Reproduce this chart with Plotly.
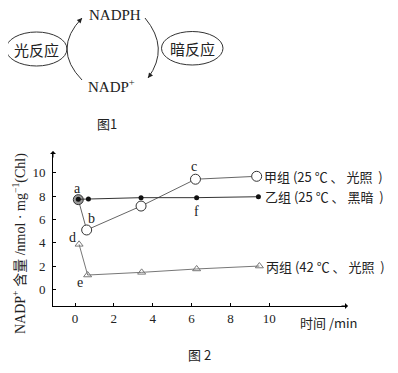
import plotly.graph_objects as go

# ---------------- data (figure 2) ----------------
jia_x = [0.17, 0.6, 3.4, 6.2, 9.35]
jia_y = [7.7, 5.1, 7.15, 9.45, 9.7]
yi_x = [0.17, 0.69, 3.4, 6.26, 9.44]
yi_y = [7.73, 7.75, 7.87, 7.87, 7.95]
bing_x = [0.21, 0.65, 3.43, 6.26, 9.49]
bing_y = [3.87, 1.24, 1.47, 1.76, 2.01]
series_names = ["甲组\u00a0(25\u00a0℃\u00a0、\u00a0光照\u00a0\u00a0)",
                "乙组\u00a0(25\u00a0℃\u00a0、\u00a0黑暗\u00a0\u00a0)",
                "丙组\u00a0(42\u00a0℃\u00a0、\u00a0光照\u00a0\u00a0)"]
x_ticks = [0, 2, 4, 6, 8, 10]
y_ticks = [0, 2, 4, 6, 8, 10]

# the page body has an 8px margin: the figure is drawn 8px in from the window edge
OFF = 8
W, H = 390, 357
SERIF = "Liberation Serif, Noto Sans CJK SC, serif"
CJK = "Noto Sans CJK SC, Liberation Serif"

fig = go.Figure()

# 甲组 (open circles, first point grey)
fig.add_trace(go.Scatter(
    x=jia_x, y=jia_y, mode="lines+markers", name=series_names[0],
    line=dict(color="#666", width=1),
    marker=dict(symbol="circle", size=10,
                color=["#9a9a9a", "white", "white", "white", "white"],
                line=dict(color="#333", width=1)),
    showlegend=False))
# 乙组 (filled dots)
fig.add_trace(go.Scatter(
    x=yi_x, y=yi_y, mode="lines+markers", name=series_names[1],
    line=dict(color="#333", width=1),
    marker=dict(symbol="circle", size=5, color="#111"),
    showlegend=False))
# 丙组 (open triangles)
fig.add_trace(go.Scatter(
    x=bing_x, y=bing_y, mode="lines+markers", name=series_names[2],
    line=dict(color="#777", width=1),
    marker=dict(symbol="triangle-up-open", size=7, color="#777", line=dict(width=1)),
    showlegend=False))

# invisible trace for the pixel-coordinate overlay axes (figure 1, titles)
fig.add_trace(go.Scatter(x=[OFF], y=[OFF], xaxis="x2", yaxis="y2", mode="markers",
                         marker=dict(opacity=0), showlegend=False, hoverinfo="skip"))

# axis geometry in window pixels
x_left, x_right = 53, 346
y_bottom, y_top = 306, 153
x0_px, x_scale = 75.0, 19.43
y0_px, y_scale = 289.5, 11.67
xr = [(x_left - x0_px) / x_scale, (x_right - x0_px) / x_scale]
yr = [(y0_px - y_bottom) / y_scale, (y0_px - y_top) / y_scale]

def fx(px):
    return (px - OFF) / W

def fy(py):
    return 1 - (py - OFF) / H

fig.update_layout(
    width=W, height=H, margin=dict(l=0, r=0, t=0, b=0),
    paper_bgcolor="white", plot_bgcolor="rgba(0,0,0,0)",
    xaxis=dict(domain=[fx(x_left), fx(x_right)], range=xr, showgrid=False, zeroline=False,
               showline=True, linecolor="black", linewidth=1,
               tickvals=x_ticks, ticks="inside", ticklen=3, tickcolor="black",
               tickfont=dict(family=SERIF, size=13, color="#222")),
    yaxis=dict(domain=[fy(y_bottom), fy(y_top)], range=yr, showgrid=False, zeroline=False,
               showline=True, linecolor="black", linewidth=1,
               tickvals=y_ticks, ticks="inside", ticklen=3, tickcolor="black",
               tickfont=dict(family=SERIF, size=13, color="#222"), ticklabelstandoff=4),
    xaxis2=dict(domain=[0, 1], range=[OFF, OFF + W], visible=False, anchor="y2", fixedrange=True),
    yaxis2=dict(domain=[0, 1], range=[OFF + H, OFF], visible=False, anchor="x2", fixedrange=True),
)

ann = []
# axis arrows
ann.append(dict(xref="paper", yref="paper", x=fx(x_left), y=fy(y_top - 2), ax=0, ay=8,
                showarrow=True, arrowhead=1, arrowsize=1, arrowwidth=1, arrowcolor="black", text=""))
ann.append(dict(xref="paper", yref="paper", x=fx(x_right + 2), y=fy(y_bottom), ax=-8, ay=0,
                showarrow=True, arrowhead=1, arrowsize=1, arrowwidth=1, arrowcolor="black", text=""))

# point letters
letters = [("a", jia_x[0], jia_y[0], -1, 11), ("b", jia_x[1], jia_y[1], 5, 11),
           ("c", jia_x[3], jia_y[3], -1, 13), ("f", yi_x[3], yi_y[3], 0, -14),
           ("d", bing_x[0], bing_y[0], -7, 7), ("e", bing_x[1], bing_y[1], -8, -7)]
for t, xv, yv, dx, dy in letters:
    ann.append(dict(x=xv, y=yv, xref="x", yref="y", text=t, showarrow=False,
                    xshift=dx, yshift=dy, font=dict(family=SERIF, size=14, color="#222")))

# series labels at the line ends
for name, xs, ys in [(series_names[0], jia_x, jia_y), (series_names[1], yi_x, yi_y),
                     (series_names[2], bing_x, bing_y)]:
    ann.append(dict(x=xs[-1], y=ys[-1], xref="x", yref="y", text=name, showarrow=False,
                    xanchor="left", xshift=5,
                    font=dict(family=CJK, size=13, color="#222")))

def T(x, y, text, size=13, family=SERIF, **kw):
    d = dict(xref="x2", yref="y2", x=x, y=y, text=text, showarrow=False,
             font=dict(family=family, size=size, color="#222"))
    d.update(kw)
    ann.append(d)

# axis titles
T(298, 322, "时间 /min", 13, CJK, xanchor="left")
T(19, 244, "NADP<sup>+</sup> 含量 /nmol · mg<sup>−1</sup>(Chl)", 14, SERIF, textangle=-90)
T(199, 354, "图 2", 13, CJK)

# ---------------- figure 1 (diagram) ----------------
T(115, 15, "NADPH", 15, SERIF)
T(111, 86, "NADP<sup>+</sup>", 15, SERIF)
T(36.5, 49, "光反应", 15, CJK)
T(192, 48, "暗反应", 15, CJK)
T(107, 123, "图1", 13, CJK)

# arrowheads on the cycle arcs
ann.append(dict(xref="x2", yref="y2", axref="x2", ayref="y2", x=82, y=18, ax=78.5, ay=22,
                showarrow=True, arrowhead=2, arrowsize=1, arrowwidth=1, arrowcolor="#222", text=""))
ann.append(dict(xref="x2", yref="y2", axref="x2", ayref="y2", x=148, y=78, ax=150.6, ay=74.5,
                showarrow=True, arrowhead=2, arrowsize=1, arrowwidth=1, arrowcolor="#222", text=""))

shapes = [
    dict(type="path", xref="x2", yref="y2", path="M 82 80 Q 52 49 82 18",
         line=dict(color="#333", width=1)),
    dict(type="path", xref="x2", yref="y2", path="M 145 18 Q 170 48 148 78",
         line=dict(color="#333", width=1)),
    dict(type="circle", xref="x2", yref="y2", x0=6, x1=67, y0=32, y1=66,
         line=dict(color="#333", width=1)),
    dict(type="circle", xref="x2", yref="y2", x0=161.5, x1=223, y0=31.5, y1=65,
         line=dict(color="#333", width=1)),
]
fig.update_layout(annotations=ann, shapes=shapes)

fig.write_html("out.html")
